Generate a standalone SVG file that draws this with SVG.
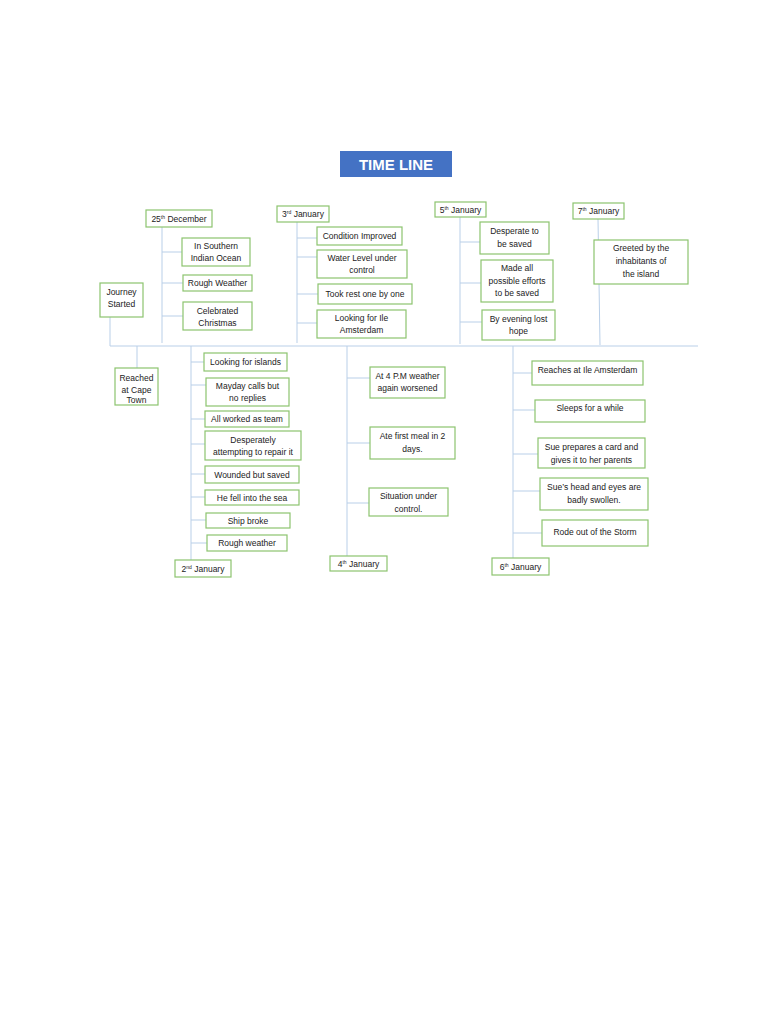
<svg xmlns="http://www.w3.org/2000/svg" width="768" height="1024" viewBox="0 0 768 1024">
<style>
rect.n{fill:#fff;stroke:#8cc46e;stroke-width:1.2}
text{font-family:"Liberation Sans",Arial,sans-serif;font-size:8.5px;fill:#222;text-anchor:middle}
.c line{stroke:#b9cfe8;stroke-width:1}
sup,.s{font-size:5px}
</style>
<rect width="768" height="1024" fill="#fff"/>
<g id="title"><rect x="340" y="151" width="112" height="26" fill="#4472c4"/><text x="396" y="170" style="font-size:15px;font-weight:bold;fill:#fff">TIME LINE</text></g>
<g class="c" id="connectors">
<line x1="110" y1="346" x2="698" y2="346"/>
<line x1="110" y1="317" x2="110" y2="346"/>
<line x1="162" y1="227" x2="162" y2="343"/>
<line x1="162" y1="252" x2="182" y2="252"/><line x1="162" y1="283" x2="183" y2="283"/><line x1="162" y1="316" x2="183" y2="316"/>
<line x1="297" y1="222" x2="297" y2="343"/>
<line x1="297" y1="238" x2="317" y2="238"/><line x1="297" y1="257" x2="317" y2="257"/><line x1="297" y1="294" x2="318" y2="294"/><line x1="297" y1="323" x2="317" y2="323"/>
<line x1="460" y1="217" x2="460" y2="344"/>
<line x1="460" y1="242" x2="480" y2="242"/><line x1="460" y1="283" x2="481" y2="283"/><line x1="460" y1="322" x2="482" y2="322"/>
<line x1="598" y1="219" x2="600" y2="345"/>
<line x1="598" y1="261" x2="594" y2="261"/>
<line x1="137" y1="346" x2="137" y2="368"/>
<line x1="191" y1="346" x2="191" y2="560"/>
<line x1="191" y1="362" x2="204" y2="362"/><line x1="191" y1="385" x2="206" y2="385"/><line x1="191" y1="419" x2="205" y2="419"/><line x1="191" y1="444" x2="205" y2="444"/><line x1="191" y1="474" x2="205" y2="474"/><line x1="191" y1="497" x2="205" y2="497"/><line x1="191" y1="520" x2="206" y2="520"/><line x1="191" y1="543" x2="207" y2="543"/>
<line x1="347" y1="346" x2="347" y2="556"/>
<line x1="347" y1="378" x2="370" y2="378"/><line x1="347" y1="443" x2="370" y2="443"/><line x1="347" y1="503" x2="369" y2="503"/>
<line x1="513" y1="346" x2="513" y2="558"/>
<line x1="513" y1="373" x2="532" y2="373"/><line x1="513" y1="410" x2="535" y2="410"/><line x1="513" y1="454" x2="538" y2="454"/><line x1="513" y1="491" x2="540" y2="491"/><line x1="513" y1="533" x2="542" y2="533"/>
</g>
<g id="n25dec"><rect class="n" x="146" y="210" width="66" height="17"/><text x="179" y="221.5">25<tspan class="s" dy="-3">th</tspan><tspan dy="3"> December</tspan></text></g>
<g id="nsouth"><rect class="n" x="182" y="238" width="68" height="28"/><text x="216" y="249">In Southern</text><text x="216" y="261">Indian Ocean</text></g>
<g id="nrough1"><rect class="n" x="183" y="275" width="69" height="16"/><text x="217.5" y="286">Rough Weather</text></g>
<g id="nxmas"><rect class="n" x="183" y="302" width="69" height="28"/><text x="217.5" y="314">Celebrated</text><text x="217.5" y="326">Christmas</text></g>
<g id="njourney"><rect class="n" x="100" y="283" width="43" height="34"/><text x="121.5" y="295">Journey</text><text x="121.5" y="307">Started</text></g>
<g id="n3jan"><rect class="n" x="277" y="206" width="52" height="16"/><text x="303" y="217">3<tspan class="s" dy="-3">rd</tspan><tspan dy="3"> January</tspan></text></g>
<g id="ncond"><rect class="n" x="317" y="227" width="85" height="18"/><text x="359.5" y="239">Condition Improved</text></g>
<g id="nwater"><rect class="n" x="317" y="250" width="90" height="28"/><text x="362" y="261">Water Level under</text><text x="362" y="273">control</text></g>
<g id="nrest"><rect class="n" x="318" y="284" width="94" height="20"/><text x="365" y="296.5">Took rest one by one</text></g>
<g id="nlookile"><rect class="n" x="317" y="310" width="89" height="28"/><text x="361.5" y="321">Looking for Ile</text><text x="361.5" y="333">Amsterdam</text></g>
<g id="n5jan"><rect class="n" x="435" y="202" width="51" height="15"/><text x="460.5" y="212.5">5<tspan class="s" dy="-3">th</tspan><tspan dy="3"> January</tspan></text></g>
<g id="ndesp"><rect class="n" x="480" y="222" width="69" height="32"/><text x="514.5" y="234">Desperate to</text><text x="514.5" y="247">be saved</text></g>
<g id="nmade"><rect class="n" x="481" y="260" width="72" height="42"/><text x="517" y="271">Made all</text><text x="517" y="283.5">possible efforts</text><text x="517" y="296">to be saved</text></g>
<g id="nlost"><rect class="n" x="482" y="310" width="73" height="30"/><text x="518.5" y="322">By evening lost</text><text x="518.5" y="334">hope</text></g>
<g id="n7jan"><rect class="n" x="573" y="203" width="51" height="16"/><text x="598.5" y="214">7<tspan class="s" dy="-3">th</tspan><tspan dy="3"> January</tspan></text></g>
<g id="ngreet"><rect class="n" x="594" y="240" width="94" height="44"/><text x="641" y="251">Greeted by the</text><text x="641" y="264">inhabitants of</text><text x="641" y="277">the island</text></g>
<g id="ncape"><rect class="n" x="115" y="368" width="43" height="37"/><text x="136.5" y="381">Reached</text><text x="136.5" y="393">at Cape</text><text x="136.5" y="405" dy="-2">Town</text></g>
<g id="n2jan"><rect class="n" x="175" y="560" width="56" height="17"/><text x="203" y="571.5">2<tspan class="s" dy="-3">nd</tspan><tspan dy="3"> January</tspan></text></g>
<g id="nislands"><rect class="n" x="204" y="353" width="83" height="18"/><text x="245.5" y="365">Looking for islands</text></g>
<g id="nmayday"><rect class="n" x="206" y="378" width="83" height="28"/><text x="247.5" y="389">Mayday calls but</text><text x="247.5" y="401">no replies</text></g>
<g id="nteam"><rect class="n" x="205" y="411" width="84" height="16"/><text x="247" y="422">All worked as team</text></g>
<g id="nrepair"><rect class="n" x="205" y="431" width="96" height="29"/><text x="253" y="442.5">Desperately</text><text x="253" y="455">attempting to repair it</text></g>
<g id="nwound"><rect class="n" x="205" y="466" width="94" height="17"/><text x="252" y="477.5">Wounded but saved</text></g>
<g id="nfell"><rect class="n" x="205" y="490" width="94" height="15"/><text x="252" y="500.5">He fell into the sea</text></g>
<g id="nship"><rect class="n" x="206" y="513" width="84" height="15"/><text x="248" y="523.5">Ship broke</text></g>
<g id="nrough2"><rect class="n" x="207" y="535" width="80" height="16"/><text x="247" y="546">Rough weather</text></g>
<g id="n4jan"><rect class="n" x="330" y="556" width="57" height="15"/><text x="358.5" y="566.5">4<tspan class="s" dy="-3">th</tspan><tspan dy="3"> January</tspan></text></g>
<g id="n4pm"><rect class="n" x="370" y="367" width="75" height="31"/><text x="407.5" y="379">At 4 P.M weather</text><text x="407.5" y="391">again worsened</text></g>
<g id="nmeal"><rect class="n" x="370" y="427" width="85" height="32"/><text x="412.5" y="439">Ate first meal in 2</text><text x="412.5" y="452">days.</text></g>
<g id="nsit"><rect class="n" x="369" y="488" width="79" height="28"/><text x="408.5" y="499">Situation under</text><text x="408.5" y="512">control.</text></g>
<g id="n6jan"><rect class="n" x="492" y="558" width="57" height="17"/><text x="520.5" y="569.5">6<tspan class="s" dy="-3">th</tspan><tspan dy="3"> January</tspan></text></g>
<g id="nreach"><rect class="n" x="532" y="361" width="111" height="24"/><text x="587.5" y="373">Reaches at Ile Amsterdam</text></g>
<g id="nsleep"><rect class="n" x="535" y="400" width="110" height="22"/><text x="590" y="411">Sleeps for a while</text></g>
<g id="ncard"><rect class="n" x="538" y="438" width="107" height="30"/><text x="591.5" y="450">Sue prepares a card and</text><text x="591.5" y="463">gives it to her parents</text></g>
<g id="nhead"><rect class="n" x="540" y="478" width="108" height="32"/><text x="594" y="490">Sue’s head and eyes are</text><text x="594" y="503">badly swollen.</text></g>
<g id="nrode"><rect class="n" x="542" y="520" width="106" height="26"/><text x="595" y="535">Rode out of the Storm</text></g>
</svg>
